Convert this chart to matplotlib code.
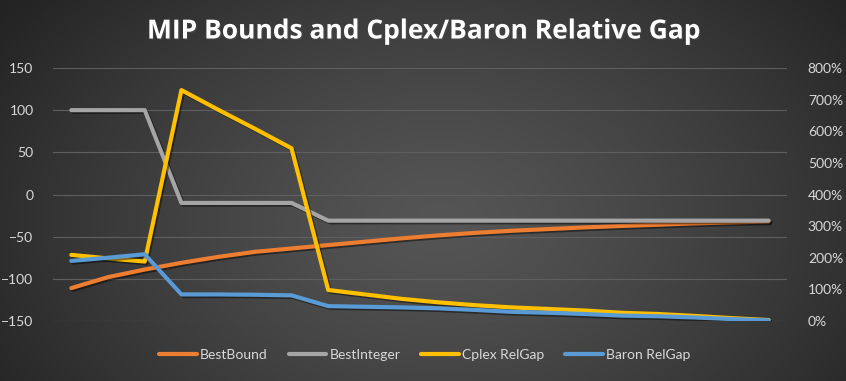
import numpy as np
import matplotlib
matplotlib.use("Agg")
import matplotlib.pyplot as plt
import matplotlib.patheffects as pe
from matplotlib.ticker import FuncFormatter

plt.rcParams['font.family'] = ['Lato', 'DejaVu Sans']

# ---- data ----
x_index = list(range(20))
best_bound = [-111, -98, -89, -81, -74, -68, -64, -60, -56, -52, -48.5, -45.5,
              -43, -41, -39, -37.3, -35.8, -34.2, -33, -32]
best_integer = [100, 100, 100, -10, -10, -10, -10] + [-31] * 13
cplex_gap = [2.09, 1.98, 1.88, 7.30, 6.68, 6.08, 5.46, 0.98, 0.84, 0.70, 0.59,
             0.50, 0.43, 0.38, 0.33, 0.26, 0.22, 0.16, 0.09, 0.03]
baron_gap = [1.90, 2.00, 2.11, 0.84, 0.84, 0.83, 0.81, 0.47, 0.45, 0.43, 0.40,
             0.35, 0.29, 0.26, 0.22, 0.17, 0.15, 0.11, 0.06, 0.02]
left_ticks = [-150, -100, -50, 0, 50, 100, 150]
right_ticks = [0, 1, 2, 3, 4, 5, 6, 7, 8]
title = "MIP Bounds and Cplex/Baron Relative Gap"

W, H = 846, 381
fig = plt.figure(figsize=(W / 100, H / 100), dpi=100)

# background radial gradient
bg = fig.add_axes([0, 0, 1, 1], zorder=-10)
yy, xx = np.mgrid[0:H, 0:W]
cx, cy = W * 0.52, H * 0.58
r = np.sqrt(((xx - cx) / (W * 0.62)) ** 2 + ((yy - cy) / (H * 0.95)) ** 2)
r = np.clip(r, 0, 1)
c0, c1 = 0x55 / 255, 0x24 / 255
val = c0 + (c1 - c0) * r ** 1.3
img = np.dstack([val, val, val])
bg.imshow(img, aspect='auto', extent=[0, 1, 0, 1], origin='upper')
bg.axis('off')

ax = fig.add_axes([53 / W, 60 / H, (787 - 53) / W, (321 - 68) / H])
ax.patch.set_alpha(0)
ax2 = ax.twinx()
ax2.patch.set_alpha(0)

tick_color = '#d9d9d9'
grid_color = '#5f5f5f'

ax.set_xlim(-0.5, 19.5)
ax.set_ylim(-150, 150)
ax2.set_ylim(0, 8)
ax.set_yticks(left_ticks)
ax2.set_yticks(right_ticks)
ax2.yaxis.set_major_formatter(FuncFormatter(lambda v, p: f"{int(round(v * 100))}%"))
ax.set_xticks([])
for a in (ax, ax2):
    for s in a.spines.values():
        s.set_visible(False)
    a.tick_params(axis='y', length=0, labelsize=10, labelcolor=tick_color)
ax.tick_params(axis='y', pad=14)
ax2.tick_params(axis='y', pad=15)
ax.yaxis.grid(True, color=grid_color, linewidth=0.8)
ax.set_axisbelow(True)

shadow = [pe.SimpleLineShadow(offset=(1.2, -1.2), shadow_color='black', alpha=0.45),
          pe.Normal()]
kw = dict(linewidth=3, solid_capstyle='round', solid_joinstyle='round',
          path_effects=shadow)
l1, = ax.plot(x_index, best_bound, color='#ED7D31', label='BestBound', **kw)
l2, = ax.plot(x_index, best_integer, color='#A5A5A5', label='BestInteger', **kw)
l3, = ax2.plot(x_index, cplex_gap, color='#FFC000', label='Cplex RelGap', **kw)
l4, = ax2.plot(x_index, baron_gap, color='#5B9BD5', label='Baron RelGap', **kw)

fig.text(423 / W, 1 - 31 / H, title, ha='center', va='center', color='white',
         fontsize=19, fontweight='bold', family=['Open Sans', 'DejaVu Sans'],
         path_effects=[pe.withSimplePatchShadow(offset=(1, -1), alpha=0.5)])

leg = fig.legend(handles=[l1, l2, l3, l4], loc='center', ncol=4,
                 bbox_to_anchor=(425 / W, 1 - 355 / H), frameon=False,
                 fontsize=10, handlelength=2.7, handletextpad=0.25,
                 columnspacing=1.5)
for t in leg.get_texts():
    t.set_color(tick_color)
for h in leg.legend_handles:
    h.set_path_effects([])

fig.savefig('out.png', dpi=100)
